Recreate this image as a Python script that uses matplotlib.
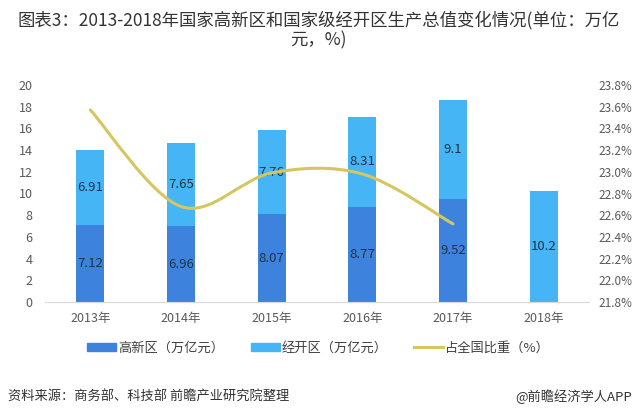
import numpy as np
import matplotlib
matplotlib.use('Agg')
import matplotlib.pyplot as plt
from matplotlib.path import Path
from matplotlib.patches import PathPatch
from matplotlib.lines import Line2D

plt.rcParams['font.family'] = ['Noto Sans CJK SC', 'DejaVu Sans']
plt.rcParams['axes.unicode_minus'] = False

years = ['2013年', '2014年', '2015年', '2016年', '2017年', '2018年']
gaoxin = [7.12, 6.96, 8.07, 8.77, 9.52, np.nan]
jingkai = [6.91, 7.65, 7.76, 8.31, 9.1, 10.2]
share = [23.57, 22.68, 22.99, 22.98, 22.52]

c_dark = '#3D83DE'
c_light = '#46B5F6'
c_line = '#D5C660'
c_tick = '#595959'
c_lab = '#1F3347'

fig = plt.figure(figsize=(6.37, 4.18), dpi=100)
ax = fig.add_axes([45/637, 1-302/418, 544/637, 217/418])
ax2 = ax.twinx()

x = np.arange(len(years))
gx = np.array(gaoxin)
jk = np.array(jingkai)
w = 0.31
ax.bar(x, gx, w, color=c_dark, zorder=2)
ax.bar(x, jk, w, bottom=np.nan_to_num(gx), color=c_light, zorder=2)

for i in x:
    if not np.isnan(gx[i]):
        ax.text(i, gx[i]/2, f'{gx[i]:g}', ha='center', va='center', fontsize=9.5, color=c_lab, zorder=3)
    b = 0 if np.isnan(gx[i]) else gx[i]
    ax.text(i, b + jk[i]/2, f'{jk[i]:g}', ha='center', va='center', fontsize=9.5, color=c_lab, zorder=3)

# smoothed line (bezier through the points, like Excel's smooth line)
px = np.arange(len(share), dtype=float)
py = np.array(share)
verts = [(px[0], py[0])]
codes = [Path.MOVETO]
n = len(px)
for i in range(n-1):
    p0 = (px[max(i-1, 0)], py[max(i-1, 0)])
    p1 = (px[i], py[i])
    p2 = (px[i+1], py[i+1])
    p3 = (px[min(i+2, n-1)], py[min(i+2, n-1)])
    c1 = (p1[0] + (p2[0]-p0[0])/6, p1[1] + (p2[1]-p0[1])/6)
    c2 = (p2[0] - (p3[0]-p1[0])/6, p2[1] - (p3[1]-p1[1])/6)
    verts += [c1, c2, p2]
    codes += [Path.CURVE4]*3
ax2.add_patch(PathPatch(Path(verts, codes), fill=False, edgecolor=c_line, lw=2.2, capstyle='round', zorder=4))

ax.set_xlim(-0.5, 5.5)
ax.set_ylim(0, 20)
ax.set_yticks(np.arange(0, 21, 2))
ax2.set_ylim(21.8, 23.8)
ax2.set_yticks(np.arange(21.8, 23.81, 0.2))
ax2.set_yticklabels([f'{v:.1f}%' for v in np.arange(21.8, 23.81, 0.2)])
ax.set_xticks(x)
ax.set_xticklabels(years)

for a in (ax, ax2):
    for s in a.spines.values():
        s.set_visible(False)
    a.tick_params(length=0, colors=c_tick, labelsize=9)
ax.spines['bottom'].set_visible(True)
ax.spines['bottom'].set_color('#D9D9D9')
ax.tick_params(axis='y', pad=9)
ax.tick_params(axis='x', pad=7)
ax2.tick_params(axis='y', pad=7, labelsize=8.5)

fig.text(0.5, 1-20/418, '图表3：2013-2018年国家高新区和国家级经开区生产总值变化情况(单位：万亿',
         ha='center', va='center', fontsize=12.5, color='#333333')
fig.text(0.5, 1-40/418, '元，%)', ha='center', va='center', fontsize=12.5, color='#333333')

handles = [plt.Rectangle((0, 0), 1, 1, color=c_dark),
           plt.Rectangle((0, 0), 1, 1, color=c_light),
           Line2D([0], [0], color=c_line, lw=2.2)]
fig.legend(handles, ['高新区（万亿元）', '经开区（万亿元）', '占全国比重（%）'],
           loc='center', bbox_to_anchor=(0.5, 1-348/418), ncol=3, frameon=False,
           fontsize=9.5, handlelength=2.2, handleheight=0.5, handletextpad=0.15,
           columnspacing=2.0, labelcolor='#404040')

fig.text(8/637, 1-397/418, '资料来源：商务部、科技部 前瞻产业研究院整理', ha='left', va='center',
         fontsize=9.5, color='#333333')
fig.text(632/637, 1-397/418, '@前瞻经济学人APP', ha='right', va='center',
         fontsize=9.5, color='#333333')

fig.savefig('out.png', dpi=100)
